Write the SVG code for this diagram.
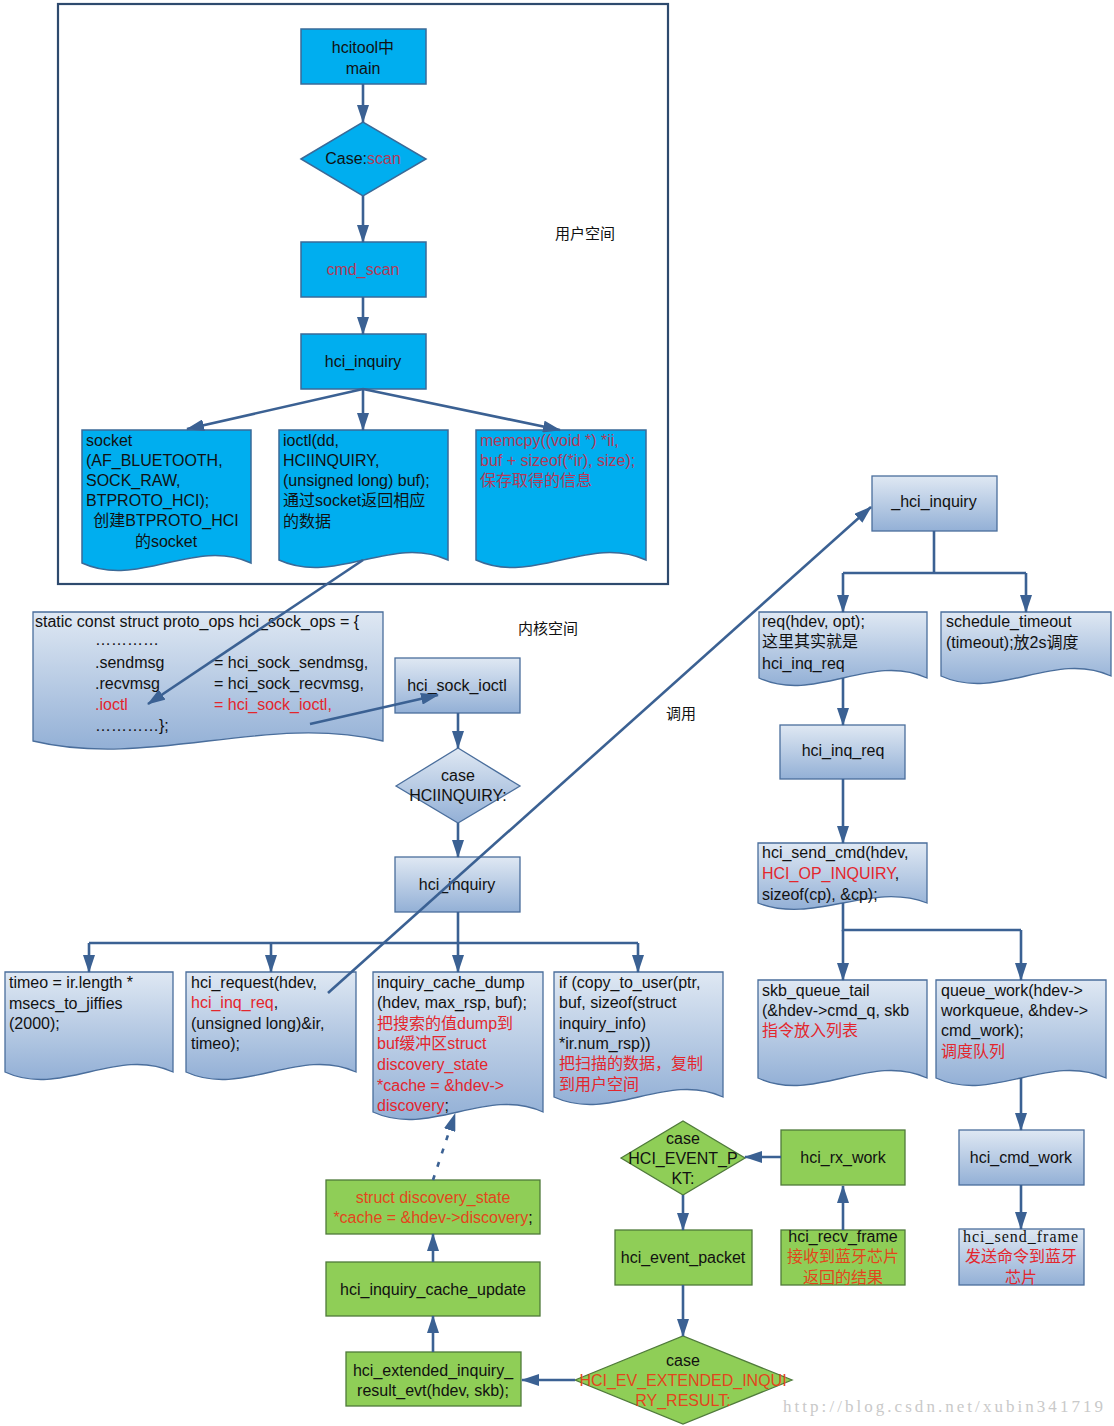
<svg xmlns="http://www.w3.org/2000/svg" width="1114" height="1426" viewBox="0 0 1114 1426">
<defs>
<linearGradient id="gb" x1="0" y1="0" x2="0" y2="1">
<stop offset="0" stop-color="#dfe8f3"/>
<stop offset="1" stop-color="#93b0d6"/>
</linearGradient>
<marker id="ah" markerUnits="userSpaceOnUse" markerWidth="18" markerHeight="12" refX="17" refY="6" orient="auto">
<path d="M0,0 L18,6 L0,12 Z" fill="#3b6193"/>
</marker>
<style>
text{font-family:"Liberation Sans","Noto Sans CJK SC",sans-serif;font-size:16px;fill:#111}
.c{text-anchor:middle}
.cy{fill:#00aeef;stroke:#3a6a98;stroke-width:1.5}
.bg{fill:url(#gb);stroke:#4a6e9c;stroke-width:1.3}
.gr{fill:#8fce57;stroke:#4f7a3a;stroke-width:1.3}
.red{fill:#e3262d}
.rc{fill:#b23a58}
.ro{fill:#e2461c}
.lbl{font-size:15px}
.ln{fill:none;stroke:#3b6193;stroke-width:2.6}
.ar{marker-end:url(#ah)}
</style>
</defs>
<rect x="0" y="0" width="1114" height="1426" fill="#ffffff"/>

<rect id="user-space" x="58" y="4" width="610" height="580" fill="none" stroke="#2e4a6e" stroke-width="2.2"/>
<text x="555" y="239" class="lbl">用户空间</text>
<text x="518" y="634" class="lbl">内核空间</text>
<text x="666" y="719" class="lbl">调用</text>

<g id="hcitool-main"><rect class="cy" x="301" y="29" width="125" height="55"/>
<text x="363" y="53" class="c">hcitool中</text><text x="363" y="74" class="c">main</text></g>
<g id="case-scan"><path class="cy" d="M301,159 L363,122 L426,159 L363,196 Z"/>
<text x="363" y="164" class="c">Case:<tspan class="rc">scan</tspan></text></g>
<g id="cmd-scan"><rect class="cy" x="301" y="242" width="125" height="55"/>
<text x="363" y="275" class="c rc">cmd_scan</text></g>
<g id="hci-inquiry-user"><rect class="cy" x="301" y="334" width="125" height="55"/>
<text x="363" y="367" class="c">hci_inquiry</text></g>

<g id="socket-doc"><path class="cy" d="M82,430 H251 V563 C194.7,537 138.3,589 82,563 Z"/>
<text x="86" y="446">socket</text><text x="86" y="466">(AF_BLUETOOTH,</text><text x="86" y="486">SOCK_RAW,</text><text x="86" y="506">BTPROTO_HCI);</text>
<text x="166" y="526" class="c">创建BTPROTO_HCI</text><text x="166" y="547" class="c">的socket</text></g>
<g id="ioctl-doc"><path class="cy" d="M279,430 H448 V560 C391.7,534 335.3,586 279,560 Z"/>
<text x="283" y="446">ioctl(dd,</text><text x="283" y="466">HCIINQUIRY,</text><text x="283" y="486">(unsigned long) buf);</text><text x="283" y="506">通过socket返回相应</text><text x="283" y="527">的数据</text></g>
<g id="memcpy-doc"><path class="cy" d="M476,430 H646 V560 C589.3,534 532.7,586 476,560 Z"/>
<text x="480" y="446" class="rc">memcpy((void *) *ii,</text><text x="480" y="466" class="rc">buf + sizeof(*ir), size);</text><text x="480" y="486" class="rc">保存取得的信息</text></g>

<g id="proto-ops"><path class="bg" d="M33,612 H383 V741 C266.3,713 149.7,769 33,741 Z"/>
<text x="35" y="627">static const struct proto_ops hci_sock_ops = {</text>
<text x="95" y="645">…………</text>
<text x="95" y="668">.sendmsg</text><text x="214" y="668">= hci_sock_sendmsg,</text>
<text x="95" y="689">.recvmsg</text><text x="214" y="689">= hci_sock_recvmsg,</text>
<text x="95" y="710" class="red">.ioctl</text><text x="214" y="710" class="red">= hci_sock_ioctl,</text>
<text x="95" y="731">…………};</text></g>

<g id="hci-sock-ioctl"><rect class="bg" x="395" y="658" width="125" height="55"/>
<text x="457" y="691" class="c">hci_sock_ioctl</text></g>
<g id="case-hciinquiry"><path class="bg" d="M396,786 L458,748 L520,786 L458,823 Z"/>
<text x="458" y="781" class="c">case</text><text x="458" y="801" class="c">HCIINQUIRY:</text></g>
<g id="hci-inquiry-kernel"><rect class="bg" x="395" y="857" width="125" height="55"/>
<text x="457" y="890" class="c">hci_inquiry</text></g>

<g id="timeo-doc"><path class="bg" d="M5,972 H173 V1072 C117,1046 61,1098 5,1072 Z"/>
<text x="9" y="988">timeo = ir.length *</text><text x="9" y="1009">msecs_to_jiffies</text><text x="9" y="1029">(2000);</text></g>
<g id="hci-request-doc"><path class="bg" d="M186,972 H356 V1072 C299.3,1046 242.7,1098 186,1072 Z"/>
<text x="191" y="988">hci_request(hdev,</text><text x="191" y="1008"><tspan class="red">hci_inq_req</tspan>,</text><text x="191" y="1029">(unsigned long)&amp;ir,</text><text x="191" y="1049">timeo);</text></g>
<g id="cache-dump-doc"><path class="bg" d="M373,972 H543 V1112 C486.3,1086 429.7,1138 373,1112 Z"/>
<text x="377" y="988"> inquiry_cache_dump</text><text x="377" y="1008">(hdev, max_rsp, buf);</text>
<text x="377" y="1029" class="red">把搜索的值dump到</text><text x="377" y="1049" class="red">buf缓冲区struct</text><text x="377" y="1070" class="red">discovery_state</text><text x="377" y="1091" class="red">*cache = &amp;hdev-&gt;</text><text x="377" y="1111"><tspan class="red">discovery</tspan>;</text></g>
<g id="copy-to-user-doc"><path class="bg" d="M554,972 H723 V1097 C666.7,1071 610.3,1123 554,1097 Z"/>
<text x="559" y="988">if (copy_to_user(ptr,</text><text x="559" y="1008">buf, sizeof(struct</text><text x="559" y="1029">inquiry_info)</text><text x="559" y="1049">*ir.num_rsp))</text>
<text x="559" y="1069" class="red">把扫描的数据，复制</text><text x="559" y="1090" class="red">到用户空间</text></g>

<g id="_hci-inquiry"><rect class="bg" x="872" y="476" width="125" height="55"/>
<text x="934" y="507" class="c">_hci_inquiry</text></g>
<g id="req-doc"><path class="bg" d="M759,612 H927 V678 C871,652 815,704 759,678 Z"/>
<text x="762" y="627">req(hdev, opt);</text><text x="762" y="647">这里其实就是</text><text x="762" y="669">hci_inq_req</text></g>
<g id="schedule-doc"><path class="bg" d="M941,612 H1111 V676 C1054.3,650 997.7,702 941,676 Z"/>
<text x="946" y="627">schedule_timeout</text><text x="946" y="648">(timeout);放2s调度</text></g>
<g id="hci-inq-req"><rect class="bg" x="780" y="725" width="125" height="54"/>
<text x="843" y="756" class="c">hci_inq_req</text></g>
<g id="send-cmd-doc"><path class="bg" d="M758,843 H927 V903 C870.7,881 814.3,925 758,903 Z"/>
<text x="762" y="858">hci_send_cmd(hdev,</text><text x="762" y="879"><tspan class="red">HCI_OP_INQUIRY</tspan>,</text><text x="762" y="900">sizeof(cp), &amp;cp);</text></g>
<g id="skb-doc"><path class="bg" d="M758,980 H927 V1078 C870.7,1052 814.3,1104 758,1078 Z"/>
<text x="762" y="996">skb_queue_tail</text><text x="762" y="1016">(&amp;hdev-&gt;cmd_q, skb</text><text x="762" y="1036" class="red">指令放入列表</text></g>
<g id="queue-work-doc"><path class="bg" d="M936,980 H1106 V1078 C1049.3,1052 992.7,1104 936,1078 Z"/>
<text x="941" y="996">queue_work(hdev-&gt;</text><text x="941" y="1016">workqueue, &amp;hdev-&gt;</text><text x="941" y="1036">cmd_work);</text><text x="941" y="1057" class="red">调度队列</text></g>
<g id="hci-cmd-work"><rect class="bg" x="959" y="1130" width="125" height="55"/>
<text x="1021" y="1163" class="c">hci_cmd_work</text></g>
<g id="hci-send-frame"><rect class="bg" x="959" y="1229" width="125" height="56"/>
<text x="1021" y="1242" class="c" style="font-family:'Liberation Serif','Noto Sans CJK SC',serif;letter-spacing:1px">hci_send_frame</text>
<text x="1021" y="1262" class="c red">发送命令到蓝牙</text><text x="1021" y="1283" class="c red">芯片</text></g>

<g id="hci-rx-work"><rect class="gr" x="781" y="1130" width="124" height="55"/>
<text x="843" y="1163" class="c">hci_rx_work</text></g>
<g id="case-event-pkt"><path class="gr" d="M621,1158 L683,1121 L745,1158 L683,1195 Z"/>
<text x="683" y="1144" class="c">case</text><text x="683" y="1164" class="c">HCI_EVENT_P</text><text x="683" y="1184" class="c">KT:</text></g>
<g id="hci-event-packet"><rect class="gr" x="615" y="1230" width="137" height="55"/>
<text x="683" y="1263" class="c">hci_event_packet</text></g>
<g id="hci-recv-frame"><rect class="gr" x="781" y="1230" width="124" height="55"/>
<text x="843" y="1242" class="c">hci_recv_frame</text><text x="843" y="1262" class="c ro">接收到蓝牙芯片</text><text x="843" y="1283" class="c ro">返回的结果</text></g>
<g id="case-ext-inquiry"><path class="gr" d="M575,1380 L683,1336 L792,1380 L683,1424 Z"/>
<text x="683" y="1366" class="c">case</text><text x="683" y="1386" class="c ro">HCI_EV_EXTENDED_INQUI</text><text x="683" y="1406" class="c ro">RY_RESULT:</text></g>
<g id="ext-inquiry-evt"><rect class="gr" x="346" y="1352" width="175" height="54"/>
<text x="433" y="1376" class="c">hci_extended_inquiry_</text><text x="433" y="1396" class="c">result_evt(hdev, skb);</text></g>
<g id="cache-update"><rect class="gr" x="326" y="1262" width="214" height="54"/>
<text x="433" y="1295" class="c">hci_inquiry_cache_update</text></g>
<g id="discovery-state"><rect class="gr" x="326" y="1180" width="214" height="54"/>
<text x="433" y="1203" class="c ro">struct discovery_state</text><text x="433" y="1223" class="c"><tspan class="ro">*cache = &amp;hdev-&gt;discovery</tspan>;</text></g>

<g id="connectors">
<line class="ln ar" x1="363" y1="84" x2="363" y2="122"/>
<line class="ln ar" x1="363" y1="196" x2="363" y2="242"/>
<line class="ln ar" x1="363" y1="297" x2="363" y2="334"/>
<line class="ln ar" x1="363" y1="389" x2="363" y2="430"/>
<line class="ln ar" x1="363" y1="389" x2="187" y2="429"/>
<line class="ln ar" x1="363" y1="389" x2="560" y2="430"/>
<line class="ln ar" x1="363" y1="560" x2="148" y2="704"/>
<line class="ln ar" x1="310" y1="724" x2="438" y2="695"/>
<line class="ln ar" x1="458" y1="713" x2="458" y2="748"/>
<line class="ln ar" x1="458" y1="823" x2="458" y2="857"/>
<polyline class="ln" points="458,912 458,943"/>
<polyline class="ln" points="89,943 638,943"/>
<line class="ln ar" x1="89" y1="943" x2="89" y2="972"/>
<line class="ln ar" x1="271" y1="943" x2="271" y2="972"/>
<line class="ln ar" x1="458" y1="943" x2="458" y2="972"/>
<line class="ln ar" x1="638" y1="943" x2="638" y2="972"/>
<line class="ln ar" x1="328" y1="993" x2="871" y2="507"/>
<line class="ln ar" x1="433" y1="1180" x2="455" y2="1114" style="stroke-dasharray:5,9"/>
<polyline class="ln" points="934,531 934,573"/>
<polyline class="ln" points="843,573 1026,573"/>
<line class="ln ar" x1="843" y1="573" x2="843" y2="612"/>
<line class="ln ar" x1="1026" y1="573" x2="1026" y2="612"/>
<line class="ln ar" x1="843" y1="678" x2="843" y2="725"/>
<line class="ln ar" x1="843" y1="779" x2="843" y2="843"/>
<polyline class="ln" points="843,903 843,930 1021,930"/>
<line class="ln ar" x1="843" y1="930" x2="843" y2="980"/>
<line class="ln ar" x1="1021" y1="930" x2="1021" y2="980"/>
<line class="ln ar" x1="1021" y1="1078" x2="1021" y2="1130"/>
<line class="ln ar" x1="1021" y1="1185" x2="1021" y2="1229"/>
<line class="ln ar" x1="781" y1="1157" x2="745" y2="1157"/>
<line class="ln ar" x1="843" y1="1230" x2="843" y2="1186"/>
<line class="ln ar" x1="683" y1="1195" x2="683" y2="1230"/>
<line class="ln ar" x1="683" y1="1285" x2="683" y2="1336"/>
<line class="ln ar" x1="575" y1="1380" x2="522" y2="1380"/>
<line class="ln ar" x1="433" y1="1352" x2="433" y2="1316"/>
<line class="ln ar" x1="433" y1="1262" x2="433" y2="1234"/>
</g>
<text x="783" y="1412" textLength="320" style="font-family:'Liberation Serif',serif;font-size:17px;fill:#c9c9c9">http://blog.csdn.net/xubin341719</text>
</svg>
